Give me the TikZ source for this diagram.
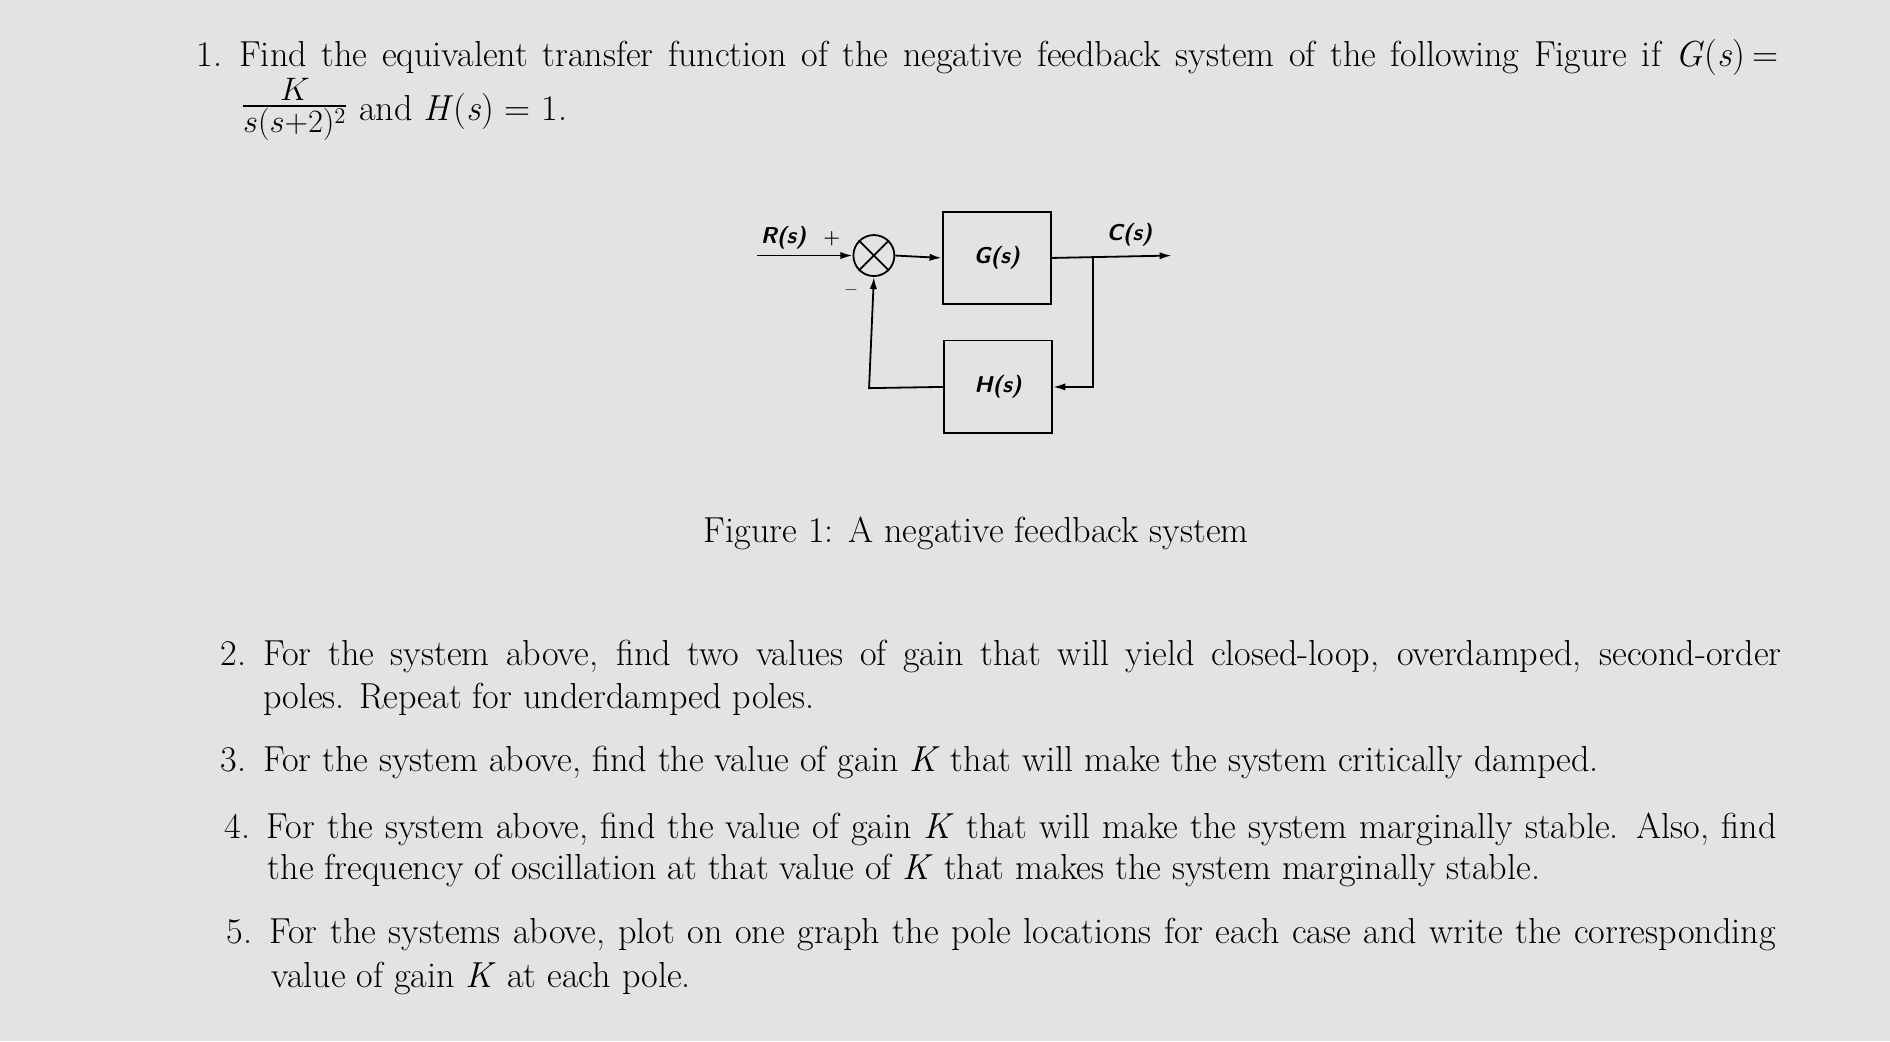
\documentclass[tikz,border=0pt]{standalone}
\usepackage{amsmath}
\usetikzlibrary{arrows.meta}
\newcommand{\mK}{\textit{K}}
\begin{document}
\begin{tikzpicture}[x=1pt,y=-1pt,
  txt/.style={anchor=base west,inner sep=0pt,font=\fontsize{30}{36}\selectfont},
  blk/.style={draw,line width=1.6pt,minimum width=90pt,minimum height=77pt,font=\fontsize{19}{22}\selectfont\sffamily\bfseries\itshape},
  lbl/.style={inner sep=0pt,font=\fontsize{19}{22}\selectfont\sffamily\bfseries\itshape},
  ln/.style={line width=1.5pt},
  arr/.style={ln,-{Latex[length=10pt,width=6pt]}}]
\fill[gray!22] (0,0) rectangle (1568,864);
\useasboundingbox (0,0) rectangle (1568,864);
% item 1
\node[txt] (l1a) at (163,55) {\makebox[1312pt][s]{1.\kern14pt Find the equivalent transfer function of the negative feedback system of the following Figure if \textit{G}(\textit{s})\kern6pt=}};
\node[txt] (l1b) at (200,100) {\raisebox{4pt}{\scalebox{1.3}{$\frac{K}{s(s+2)^2}$}} and \textit{H}(\textit{s}) = 1.};
% diagram
\node[draw,circle,line width=1.5pt,minimum size=34pt,inner sep=0pt] (sum) at (725,212) {};
\draw[line width=1.5pt] (sum.north west)--(sum.south east) (sum.north east)--(sum.south west);
\node[blk] (G) at (827,214) {G(s)};
\node[blk] (H) at (828,321) {H(s)};
\coordinate (rin) at (628,212);
\coordinate (out) at (972,212);
\coordinate (br) at (907,212);
\coordinate (hl) at (721,322);
\node[lbl] (R) at (650,197) {R(s)};
\node[lbl] (C) at (937,195) {C(s)};
\node[inner sep=0pt,font=\fontsize{16}{18}\selectfont\bfseries] (plus) at (690,198) {+};
\node[inner sep=0pt,font=\fontsize{16}{18}\selectfont\bfseries] (minus) at (706,243) {--};
\draw[arr] (rin) -- (sum.west);
\draw[arr] (sum.east) -- (G.west);
\draw[arr] (G.east) -- (out);
\draw[arr] (br) |- (H.east);
\draw[arr] (H.west) -- (hl) -- (sum.south);
% caption
\node[anchor=base,inner sep=0pt,font=\fontsize{30}{36}\selectfont] (cap) at (810,450) {Figure 1: A negative feedback system};
% items
\node[txt] (l2a) at (183,552) {\makebox[1295pt][s]{2.\kern14pt For the system above, find two values of gain that will yield closed-loop, overdamped, second-order}};
\node[txt] (l2b) at (218,588) {poles. Repeat for underdamped poles.};
\node[txt] (l3) at (183,640) {3.\kern14pt For the system above, find the value of gain \mK{} that will make the system critically damped.};
\node[txt] (l4a) at (186,696) {\makebox[1288pt][s]{4.\kern14pt For the system above, find the value of gain \mK{} that will make the system marginally stable. Also, find}};
\node[txt] (l4b) at (222,730) {the frequency of oscillation at that value of \mK{} that makes the system marginally stable.};
\node[txt] (l5a) at (188,783) {\makebox[1285pt][s]{5.\kern14pt For the systems above, plot on one graph the pole locations for each case and write the corresponding}};
\node[txt] (l5b) at (225,819) {value of gain \mK{} at each pole.};
\end{tikzpicture}
\end{document}
